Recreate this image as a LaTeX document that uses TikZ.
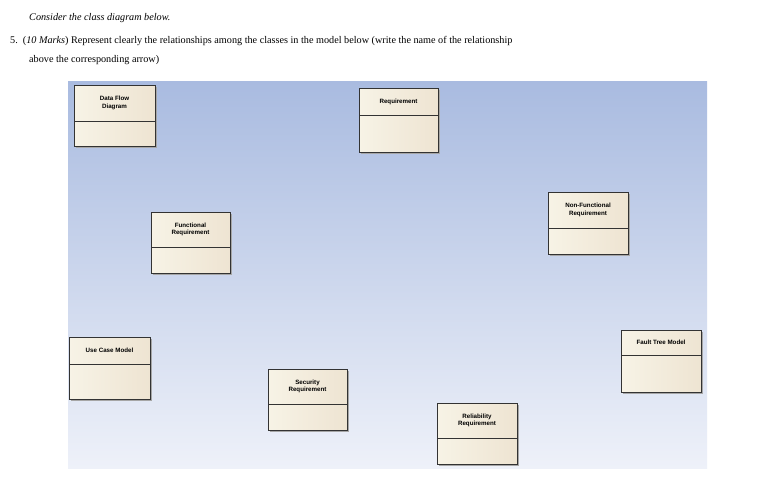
\documentclass[tikz,border=0pt]{standalone}
\usepackage{fontspec}
\setmainfont{Liberation Serif}
\newfontfamily\boxfont{Liberation Sans}
\tikzset{
  cls/.style={draw=black!80, line width=0.5pt, left color=white!80!yellow!20!brown!30, right color=brown!15!white!95!orange, shading angle=0},
  lbl/.style={font=\boxfont\bfseries\fontsize{6.2}{7.5}\selectfont, align=center, text=black},
  txt/.style={anchor=west, inner sep=0, font=\fontsize{10.2}{12}\selectfont}
}
\definecolor{bgtop}{HTML}{A9BBE0}
\definecolor{bgbot}{HTML}{EEF1F9}
\definecolor{boxl}{HTML}{F7F3E6}
\definecolor{boxr}{HTML}{EEE4D2}
\newcommand{\umlbox}[6]{% name, x1,y1,x2,y2, divider y, label
  \fill[black!35] (#2+2,#3+2) rectangle (#4+2,#5+2);
  \shade[left color=boxl, right color=boxr, draw=black!80, line width=0.5pt] (#2,#3) rectangle (#4,#5);
  \draw[black!80, line width=0.5pt] (#2,#6) -- (#4,#6);
  \node[lbl] (#1) at ({(#2+#4)/2},{(#3+#6)/2}) {\umllabel};
}
\begin{document}
\begin{tikzpicture}[x=1pt,y=-1pt]
\useasboundingbox (0,0) rectangle (772,488);
\fill[white] (0,0) rectangle (772,488);
\node[txt] (t1) at (29,18) {\itshape Consider the class diagram below.};
\node[txt] (t2) at (10,41) {5.\ \ (\textit{10 Marks}) Represent clearly the relationships among the classes in the model below (write the name of the relationship};
\node[txt] (t3) at (29,60) {above the corresponding arrow)};
\shade[top color=bgtop, bottom color=bgbot] (68,81) rectangle (707,468);
\def\umllabel{Data Flow\\Diagram}\umlbox{dfd}{74}{85}{155}{146}{121}
\def\umllabel{Requirement}\umlbox{req}{359}{88}{438}{152}{115}
\def\umllabel{Functional\\Requirement}\umlbox{fr}{151}{212}{230}{273}{247}
\def\umllabel{Non-Functional\\Requirement}\umlbox{nfr}{548}{192}{628}{254}{228}
\def\umllabel{Use Case Model}\umlbox{ucm}{69}{337}{150}{399}{364}
\def\umllabel{Fault Tree Model}\umlbox{ftm}{621}{330}{701}{392}{355}
\def\umllabel{Security\\Requirement}\umlbox{sr}{268}{369}{347}{430}{404}
\def\umllabel{Reliability\\Requirement}\umlbox{rr}{437}{403}{517}{464}{438}
\end{tikzpicture}
\end{document}
